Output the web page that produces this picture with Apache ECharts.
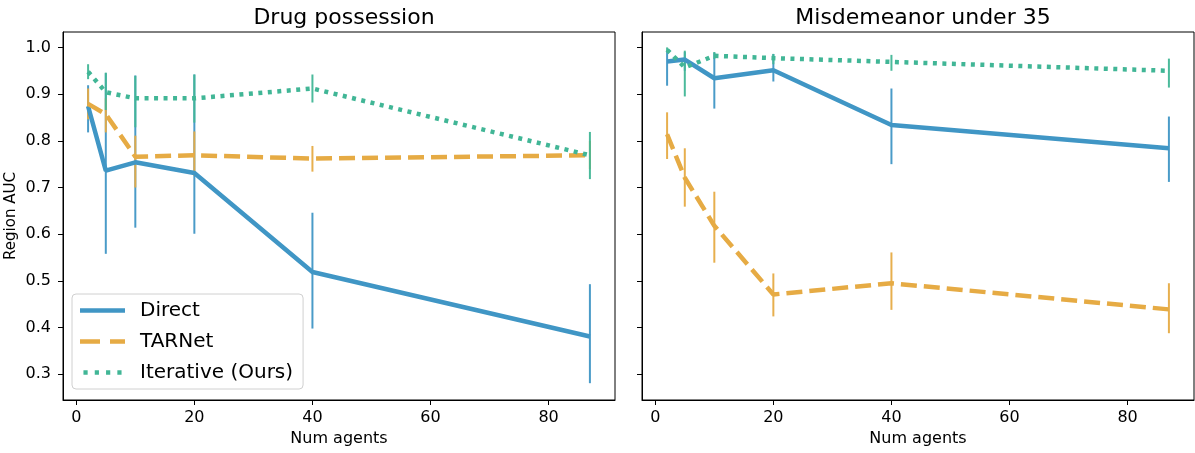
<!DOCTYPE html>
<html>
<head>
<meta charset="utf-8">
<script src="https://cdn.jsdelivr.net/npm/echarts@6/dist/echarts.min.js"></script>
<style>
  html, body { margin: 0; padding: 0; background: #fff; }
  #chart { width: 1195px; height: 453px; }
</style>
</head>
<body>
<div id="chart"></div>
<script>
// Num agents on the x axis
const agents = [2, 5, 10, 20, 40, 87];
const panelTitles = ['Drug possession', 'Misdemeanor under 35'];
const methods = ['Direct', 'TARNet', 'Iterative (Ours)'];
const xTicks = [0, 20, 40, 60, 80];
const yTicks = [0.3, 0.4, 0.5, 0.6, 0.7, 0.8, 0.9, 1.0];

// Drug possession: mean, lower and upper end of the error bars
const drugDirect = [0.874, 0.736, 0.754, 0.731, 0.519, 0.381];
const drugDirectLow = [0.818, 0.558, 0.614, 0.601, 0.398, 0.281];
const drugDirectHigh = [0.919, 0.945, 0.940, 0.942, 0.646, 0.493];
const drugTarnet = [0.879, 0.857, 0.766, 0.769, 0.762, 0.769];
const drugTarnetLow = [0.846, 0.818, 0.700, 0.725, 0.734, 0.739];
const drugTarnetHigh = [0.912, 0.891, 0.811, 0.820, 0.789, 0.800];
const drugIter = [0.948, 0.904, 0.891, 0.891, 0.912, 0.769];
const drugIterLow = [0.932, 0.866, 0.829, 0.839, 0.882, 0.718];
const drugIterHigh = [0.964, 0.946, 0.939, 0.942, 0.942, 0.819];

// Misdemeanor under 35
const misdDirect = [0.970, 0.974, 0.934, 0.951, 0.834, 0.784];
const misdDirectLow = [0.918, 0.950, 0.869, 0.927, 0.750, 0.712];
const misdDirectHigh = [0.990, 0.990, 0.989, 0.986, 0.912, 0.852];
const misdTarnet = [0.814, 0.721, 0.618, 0.471, 0.495, 0.439];
const misdTarnetLow = [0.761, 0.659, 0.539, 0.424, 0.438, 0.388];
const misdTarnetHigh = [0.861, 0.784, 0.691, 0.516, 0.561, 0.495];
const misdIter = [0.995, 0.957, 0.982, 0.977, 0.969, 0.950];
const misdIterLow = [0.989, 0.895, 0.975, 0.964, 0.950, 0.914];
const misdIterHigh = [1.000, 0.993, 0.990, 0.986, 0.984, 0.976];

const colors = ['#4096c5', '#e6ab44', '#41b696'];
const lineTypes = ['solid', [16, 7], [4, 5.5]];
// legend handles: solid bar, two dashes, four dots
const legendIcons = [
  'rect',
  'path://M0,0h20v4.5h-20z M30,0h15v4.5h-15z',
  'path://M0,0h4.2v4.5h-4.2z M11.3,0h4.2v4.5h-4.2z M22.6,0h4.2v4.5h-4.2z M33.9,0h4.2v4.5h-4.2z'
];

const panels = [
  [[drugDirect, drugDirectLow, drugDirectHigh],
   [drugTarnet, drugTarnetLow, drugTarnetHigh],
   [drugIter, drugIterLow, drugIterHigh]],
  [[misdDirect, misdDirectLow, misdDirectHigh],
   [misdTarnet, misdTarnetLow, misdTarnetHigh],
   [misdIter, misdIterLow, misdIterHigh]]
];

const font = 'DejaVu Sans';
const gridLefts = [63, 642];

const chart = echarts.init(document.getElementById('chart'));

function xAxis(i) {
  return {
    type: 'value',
    gridIndex: i,
    min: -2.25,
    max: 91.25,
    name: 'Num agents',
    nameLocation: 'middle',
    nameGap: 31,
    nameTextStyle: { fontFamily: font, fontSize: 16, color: '#000' },
    splitLine: { show: false },
    axisLine: { show: true, onZero: false, lineStyle: { color: '#000', width: 1 } },
    axisTick: { show: true, length: 5, customValues: xTicks, lineStyle: { color: '#000' } },
    axisLabel: {
      customValues: xTicks, margin: 10,
      fontFamily: font, fontSize: 16, color: '#000'
    }
  };
}

function yAxis(i) {
  return {
    type: 'value',
    gridIndex: i,
    min: 0.245,
    max: 1.033,
    name: i === 0 ? 'Region AUC' : '',
    nameLocation: 'middle',
    nameGap: 44,
    nameRotate: 90,
    nameTextStyle: { fontFamily: font, fontSize: 15, color: '#000' },
    splitLine: { show: false },
    axisLine: { show: true, onZero: false, lineStyle: { color: '#000', width: 1 } },
    axisTick: { show: true, length: 5, customValues: yTicks, lineStyle: { color: '#000' } },
    axisLabel: {
      show: i === 0,
      customValues: yTicks, margin: 12,
      fontFamily: font, fontSize: 16, color: '#000',
      formatter: v => v.toFixed(1)
    }
  };
}

// vertical error bar drawn with the axis scales
function errorBars(i, m, low, high) {
  return {
    type: 'custom',
    xAxisIndex: i,
    yAxisIndex: i,
    silent: true,
    data: agents.map((x, k) => [x, low[k], high[k]]),
    encode: { x: 0, y: [1, 2] },
    renderItem: function(params, api) {
      const p1 = api.coord([api.value(0), api.value(1)]);
      const p2 = api.coord([api.value(0), api.value(2)]);
      return {
        type: 'line',
        shape: { x1: p1[0], y1: p1[1], x2: p2[0], y2: p2[1] },
        style: { stroke: colors[m], lineWidth: 2, opacity: 0.95 }
      };
    }
  };
}

const series = [];
panels.forEach((panel, i) => {
  panel.forEach((vals, m) => {
    series.push({
      type: 'line',
      name: methods[m],
      xAxisIndex: i,
      yAxisIndex: i,
      data: agents.map((x, k) => [x, vals[0][k]]),
      symbol: 'none',
      silent: true,
      color: colors[m],
      lineStyle: { color: colors[m], width: 4.5, type: lineTypes[m], cap: 'butt' }
    });
    series.push(errorBars(i, m, vals[1], vals[2]));
  });
});

const option = {
  animation: false,
  backgroundColor: '#fff',
  title: panelTitles.map((t, i) => ({
    text: t,
    left: gridLefts[i] + 276,
    top: 2,
    textAlign: 'center',
    textStyle: { fontFamily: font, fontSize: 22, fontWeight: 'normal', color: '#000' }
  })),
  legend: {
    data: methods.map((name, m) => ({ name: name, icon: legendIcons[m] })),
    orient: 'vertical',
    left: 72,
    top: 294,
    itemWidth: 45,
    itemHeight: 4.5,
    itemGap: 10,
    padding: [6, 10, 6, 8],
    backgroundColor: 'rgba(255,255,255,0.8)',
    borderColor: '#d0d0d0',
    borderWidth: 1,
    borderRadius: 4,
    textStyle: { fontFamily: font, fontSize: 20, lineHeight: 21, color: '#000', padding: [0, 0, 0, 10] }
  },
  grid: gridLefts.map(l => ({
    left: l, top: 32, width: 552, height: 368,
    show: true, borderColor: '#000', borderWidth: 1
  })),
  xAxis: [xAxis(0), xAxis(1)],
  yAxis: [yAxis(0), yAxis(1)],
  series: series
};

chart.setOption(option);
</script>
</body>
</html>
